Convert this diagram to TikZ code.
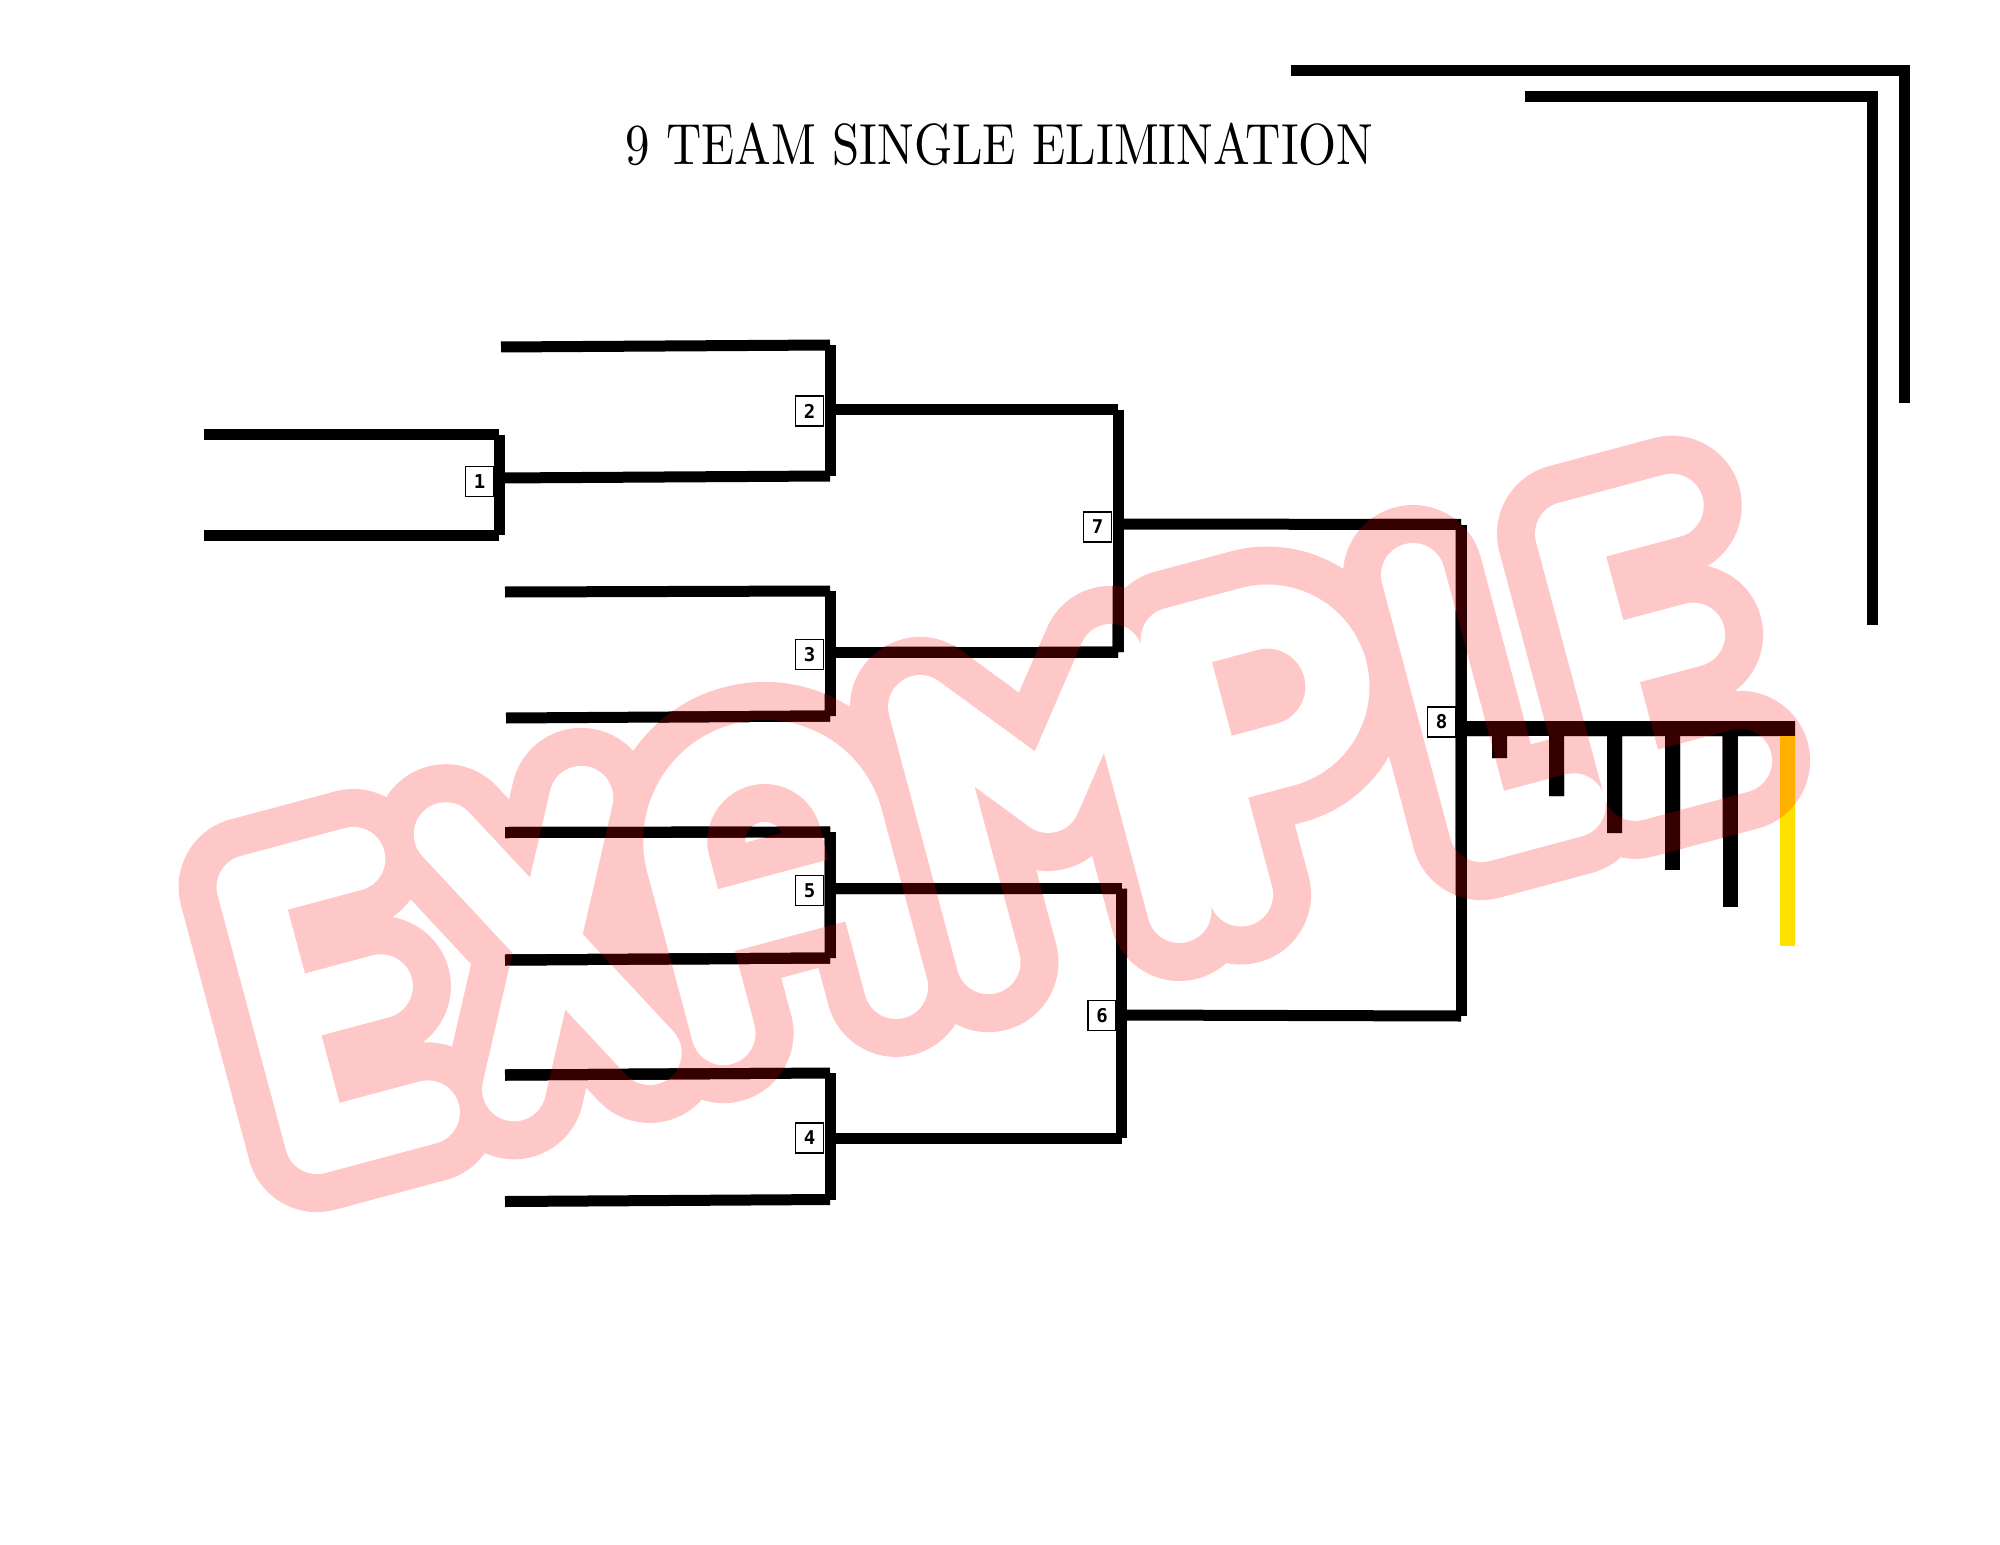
\documentclass[tikz,border=0pt]{standalone}
\usepackage{fontspec}
\usepackage{graphicx}
\newfontfamily\digitfont{DejaVu Sans Mono}
\definecolor{tickyellow}{RGB}{255,225,0}
\definecolor{wmpink}{RGB}{255,200,200}
\definecolor{wmdark}{RGB}{55,0,0}
\definecolor{wmorange}{RGB}{255,176,0}

\def\wmletters{%
  (-470,112)--(-555,112)--(-555,-95)--(-465,-95) (-555,10)--(-475,10)
  (-395,112)--(-285,-95) (-285,112)--(-395,-95)
  (-225,-95)--(-225,42) arc[start angle=180,end angle=0,radius=70] --(-85,-95) (-225,-10)--(-85,-10)
  (-10,-95)--(-10,112)--(68,15)--(145,112)--(145,-95)
  (195,-95)--(195,112)--(257,112) arc[start angle=90,end angle=-90,radius=55]--(195,2)
  (390,112)--(390,-95)--(465,-95)
  (600,112)--(515,112)--(515,-95)--(600,-95) (515,10)--(590,10)
}

\tikzset{
  bk/.style={line width=5.5pt, black, line cap=butt},
  bar/.style={line width=7.5pt, black, line cap=butt},
  corner/.style={line width=5.75pt, black, line cap=butt, line join=miter},
  numbox/.style={draw=black, line width=0.75pt, fill=white, minimum width=14pt,
    minimum height=15pt, inner sep=0pt, font=\digitfont\bfseries\fontsize{9.5}{10}\selectfont},
  wmouter/.style={line width=70pt, line cap=round, line join=round},
  wminner/.style={line width=32pt, line cap=round, line join=round},
  wmframe/.style={shift={(969.4,841.8)}, x=0.6378pt, y=0.6378pt, rotate=15}
}

\begin{document}
\begin{tikzpicture}[x=0.5pt, y=-0.5pt]
\useasboundingbox (0,0) rectangle (2000,1545);
\fill[white] (0,0) rectangle (2000,1545);

% watermark (under the bracket)
\begin{scope}[wmframe]
  \draw[wmouter, wmpink] \wmletters;
  \draw[wminner, white] \wmletters;
\end{scope}

% title
\node[anchor=base west, inner sep=0pt] (title) at (625,164.5)
  {\resizebox{374pt}{20.75pt}{9 TEAM SINGLE ELIMINATION}};

% top-right corner lines
\coordinate (oa) at (1290.5,70.6); \coordinate (ob) at (1904.6,70.6); \coordinate (oc) at (1904.6,403);
\coordinate (ia) at (1525,96.6); \coordinate (ib) at (1872.4,96.6); \coordinate (ic) at (1872.4,625);
\draw[corner] (oa) -- (ob) -- (oc);
\draw[corner] (ia) -- (ib) -- (ic);

% coordinates of the bracket
\coordinate (e1a) at (204,435); \coordinate (c1a) at (499,435);
\coordinate (e1b) at (204,535); \coordinate (c1b) at (499,535);
\coordinate (m1) at (499,478);
\coordinate (e2a) at (501,347); \coordinate (c2a) at (830,345);
\coordinate (c2b) at (830,476); \coordinate (m2) at (830,410);
\coordinate (e3a) at (505,592); \coordinate (c3a) at (830,591);
\coordinate (e3b) at (506,718); \coordinate (c3b) at (830,716);
\coordinate (m3) at (830,652);
\coordinate (c7a) at (1118,410); \coordinate (c7b) at (1118,652); \coordinate (m7) at (1118,524);
\coordinate (e5a) at (505,832.5); \coordinate (c5a) at (830,832);
\coordinate (e5b) at (505,960); \coordinate (c5b) at (830,958);
\coordinate (m5) at (830,888.5);
\coordinate (e4a) at (505,1075); \coordinate (c4a) at (830,1073);
\coordinate (e4b) at (505,1201.5); \coordinate (c4b) at (830,1199.5);
\coordinate (m4) at (830,1138);
\coordinate (c6a) at (1121.5,888.5); \coordinate (c6b) at (1121.5,1138); \coordinate (m6) at (1121.5,1015);
\coordinate (c8a) at (1461,524.5); \coordinate (c8b) at (1461,1016);
\coordinate (m8) at (1461,728.5); \coordinate (fin) at (1795,728.5);

% ticks
\coordinate (k1t) at (1499.5,728.5); \coordinate (k1b) at (1499.5,758);
\coordinate (k2t) at (1556.5,728.5); \coordinate (k2b) at (1556.5,796);
\coordinate (k3t) at (1614.5,728.5); \coordinate (k3b) at (1614.5,833);
\coordinate (k4t) at (1672.5,728.5); \coordinate (k4b) at (1672.5,870);
\coordinate (k5t) at (1730,728.5); \coordinate (k5b) at (1730,907);
\coordinate (k6t) at (1787.5,728.5); \coordinate (k6m) at (1787.5,736.25); \coordinate (k6b) at (1787.5,946);

% bracket lines
\foreach \a/\b in {e1a/c1a, e1b/c1b, m1/c2b, e2a/c2a, m2/c7a, e3a/c3a, e3b/c3b, m3/c7b,
                   m7/c8a, e5a/c5a, e5b/c5b, m5/c6a, e4a/c4a, e4b/c4b, m4/c6b, m6/c8b,
                   c1a/c1b, c2a/c2b, c3a/c3b, c7a/c7b, c5a/c5b, c4a/c4b, c6a/c6b, c8a/c8b}
  \draw[bk] (\a) -- (\b);
\foreach \a/\b in {k1t/k1b, k2t/k2b, k3t/k3b, k4t/k4b, k5t/k5b}
  \draw[bar] (\a) -- (\b);
\draw[bar, tickyellow] (k6t) -- (k6b);
\draw[bar] (m8) -- (fin);

% watermark tint where it crosses the black lines
\begin{scope}
  \clip
    foreach \a/\b in {e1a/c1a, e1b/c1b, m1/c2b, e2a/c2a, m2/c7a, e3a/c3a, e3b/c3b, m3/c7b,
                      m7/c8a, e5a/c5a, e5b/c5b, m5/c6a, e4a/c4a, e4b/c4b, m4/c6b, m6/c8b}
      { ([yshift=2.75pt]\a) -- ([yshift=2.75pt]\b) -- ([yshift=-2.75pt]\b) -- ([yshift=-2.75pt]\a) -- cycle }
    foreach \a/\b in {c1a/c1b, c2a/c2b, c3a/c3b, c7a/c7b, c5a/c5b, c4a/c4b, c6a/c6b, c8a/c8b}
      { ([xshift=-2.75pt]\a) -- ([xshift=2.75pt]\a) -- ([xshift=2.75pt]\b) -- ([xshift=-2.75pt]\b) -- cycle }
    foreach \a/\b in {k1t/k1b, k2t/k2b, k3t/k3b, k4t/k4b, k5t/k5b}
      { ([xshift=-3.75pt]\a) -- ([xshift=3.75pt]\a) -- ([xshift=3.75pt]\b) -- ([xshift=-3.75pt]\b) -- cycle }
    ([yshift=3.75pt]m8) -- ([yshift=3.75pt]fin) -- ([yshift=-3.75pt]fin) -- ([yshift=-3.75pt]m8) -- cycle;
  \begin{scope}[wmframe]
    \draw[wmouter, wmdark] \wmletters;
    \draw[wminner, black] \wmletters;
  \end{scope}
\end{scope}
\begin{scope}
  \clip ([xshift=-3.75pt]k6m) -- ([xshift=3.75pt]k6m) -- ([xshift=3.75pt]k6b) -- ([xshift=-3.75pt]k6b) -- cycle;
  \begin{scope}[wmframe]
    \draw[wmouter, wmorange] \wmletters;
    \draw[wminner, tickyellow] \wmletters;
  \end{scope}
\end{scope}

% match boxes
\node[numbox] (b1) at (479.5,481.5) {1};
\node[numbox] (b2) at (809.5,411) {2};
\node[numbox] (b3) at (809.5,654.5) {3};
\node[numbox] (b4) at (809.5,1138) {4};
\node[numbox] (b5) at (809.5,890.5) {5};
\node[numbox] (b6) at (1102,1015.5) {6};
\node[numbox] (b7) at (1097.5,527) {7};
\node[numbox] (b8) at (1441.5,722) {8};
\end{tikzpicture}
\end{document}
